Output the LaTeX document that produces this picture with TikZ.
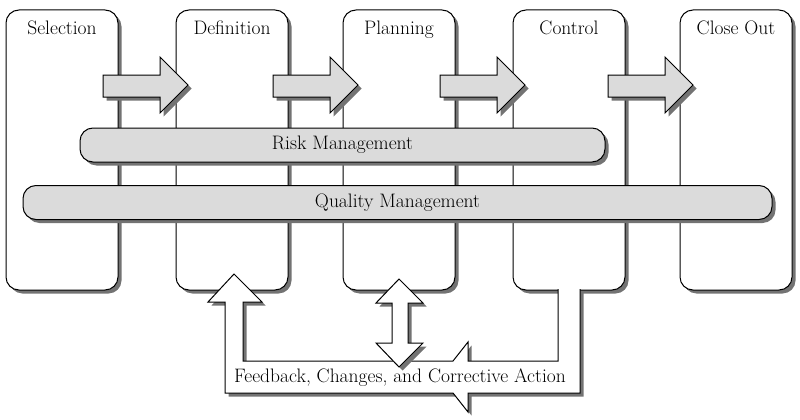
\documentclass[tikz,border=0pt]{standalone}
\usepackage{tikz}
\usetikzlibrary{
        positioning,
        shadows
    }
\definecolor{barfill}{gray}{0.86}
\definecolor{shade}{gray}{0.45}
\tikzset{dropped/.style={drop shadow={shadow xshift=3.5pt,shadow yshift=-3.5pt,fill=shade,opacity=1}}}
\tikzset{phase/.style={draw,fill=white,rounded corners=13pt,minimum width=112pt,minimum height=280pt,inner sep=0pt,dropped}}
\tikzset{title/.style={anchor=north,inner sep=0pt,yshift=-11pt}}
\tikzset{bar/.style={draw,fill=barfill,rounded corners=13pt,minimum height=34pt,inner sep=0pt,dropped}}

\begin{document}
\begin{tikzpicture}[x=1pt,y=-1pt,line width=1pt,font=\fontsize{19.5}{22}\selectfont]
                    \tikzset{blockarrow/.style={draw,fill=barfill,dropped}}
                    \tikzset{feedback/.style={draw,fill=white,dropped}}
                    \useasboundingbox (0,0) rectangle (800,420);

                        % phases
                        \foreach \name/\x/\txt in {sel/62/Selection,def/232/Definition,plan/399/Planning,ctrl/569/Control,close/736/Close Out}
                        {
                            \node[phase] (\name) at (\x,150) {};
                            \node[title] (\name-t) at (\name.north) {\txt};
                        }

                        % arrows between phases
                        \foreach \x in {103,273,440,608}
                            \draw[blockarrow] (\x,75) -- ++(57,0) -- ++(0,-18) -- (\x+85,85)
                                -- (\x+57,113) -- ++(0,-16) -- (\x,97) -- cycle;

                        \node[bar,minimum width=525pt] (risk) at (342.5,145) {Risk Management};
                        \node[bar,minimum width=749pt] (quality) at (397.5,202.5) {Quality Management};

                        % feedback loop
                        \draw[feedback] (580,289) -- (580,393) -- (468,393) -- (468,412) -- (453,393)
                            -- (225,393) -- (225,302) -- (208,302) -- (234,274) -- (262,302) -- (243,302)
                            -- (243,361) -- (453,361) -- (468,342) -- (468,361) -- (558,361) -- (558,289);
                        \draw[feedback] (399,279) -- (423,303) -- (408,303) -- (408,343) -- (423,343)
                            -- (399,367) -- (376,343) -- (392,343) -- (392,303) -- (376,303) -- cycle;
                        \node (fb) at (400,378) {Feedback, Changes, and Corrective Action};
                    \end{tikzpicture}
\end{document}
